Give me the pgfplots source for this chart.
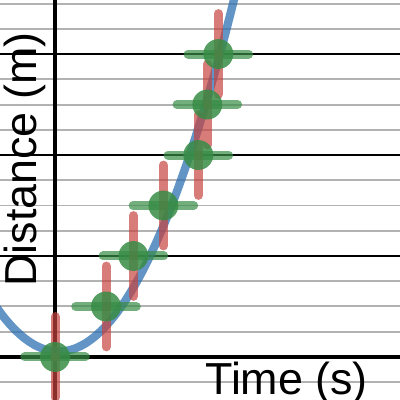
\documentclass[border=0pt]{standalone}
\usepackage{pgfplots}
\pgfplotsset{compat=1.18}
\usepackage{fontspec}
\setmainfont{Liberation Sans}
\definecolor{dred}{HTML}{C74440}
\definecolor{dblue}{HTML}{2D70B3}
\definecolor{dgreen}{HTML}{388C46}
\begin{document}
\begin{tikzpicture}
\begin{axis}[
  width=4in, height=4in, scale only axis,
  xmin=-0.545, xmax=3.416, ymin=-0.426, ymax=3.535,
  axis line style={draw=none},
  xtick=\empty, minor xtick={1,2,3},
  ytick={1,2,3},
  minor ytick={-0.25,0.25,0.5,0.75,1.25,1.5,1.75,2.25,2.5,2.75,3.25,3.5},
  xminorgrids, ymajorgrids, yminorgrids,
  xticklabels={}, yticklabels={},
  major tick length=0pt, minor tick length=0pt,
  major grid style={black, line width=1.5pt},
  minor grid style={black!30, line width=1.44pt},
  extra x ticks={0}, extra y ticks={0},
  extra x tick labels={}, extra y tick labels={},
  extra tick style={grid=major, major grid style={black, line width=2.9pt}},
  clip=true,
]
% fitted curve
\addplot[dblue, opacity=0.75, line width=6pt, smooth] coordinates {
(-0.6,0.5206) (-0.5,0.3853) (-0.4,0.2731) (-0.3,0.1840) (-0.2,0.1179) (-0.1,0.0751)
(0,0.0553) (0.1,0.0587) (0.2,0.0851) (0.3,0.1346) (0.4,0.2073) (0.5,0.3031)
(0.6,0.4220) (0.7,0.5640) (0.8,0.7290) (0.9,0.9173) (1.0,1.1286) (1.1,1.3631)
(1.2,1.6206) (1.3,1.9012) (1.4,2.2050) (1.5,2.5319) (1.6,2.8819) (1.7,3.2550)
(1.8,3.6511) (1.9,4.0705)
};
% points with x errors
\addplot[dgreen, only marks, mark=*, mark size=10.8pt,
  mark options={draw opacity=0, fill=dgreen, fill opacity=0.85},
  error bars/.cd, x dir=both, x explicit,
  error mark=none,
  error bar style={dgreen, opacity=0.7, line width=6.5pt, line cap=round}]
  coordinates {
  (0,0) +- (0.3,0)
  (0.505,0.5) +- (0.3,0)
  (0.776,1.0) +- (0.3,0)
  (1.073,1.5) +- (0.3,0)
  (1.419,2.0) +- (0.3,0)
  (1.508,2.5) +- (0.3,0)
  (1.617,3.0) +- (0.3,0)
};
% y errors
\addplot[draw=none, mark=none,
  error bars/.cd, y dir=both, y explicit,
  error mark=none,
  error bar style={dred, opacity=0.7, line width=6.5pt, line cap=round}]
  coordinates {
  (0,0) +- (0,0.4)
  (0.505,0.5) +- (0,0.4)
  (0.776,1.0) +- (0,0.4)
  (1.073,1.5) +- (0,0.4)
  (1.419,2.0) +- (0,0.4)
  (1.508,2.5) +- (0,0.4)
  (1.617,3.0) +- (0,0.4)
};
\node[rotate=90, anchor=base west, inner sep=0pt, font=\fontsize{32.4}{38}\selectfont]
  at (axis cs:-0.188,0.693) {Distance (m)};
\node[anchor=base west, inner sep=0pt, font=\fontsize{32.4}{38}\selectfont]
  at (axis cs:1.485,-0.371) {Time (s)};
\end{axis}
\pgfresetboundingbox
\path[use as bounding box] (current axis.south west) rectangle (current axis.north east);
\end{tikzpicture}
\end{document}
